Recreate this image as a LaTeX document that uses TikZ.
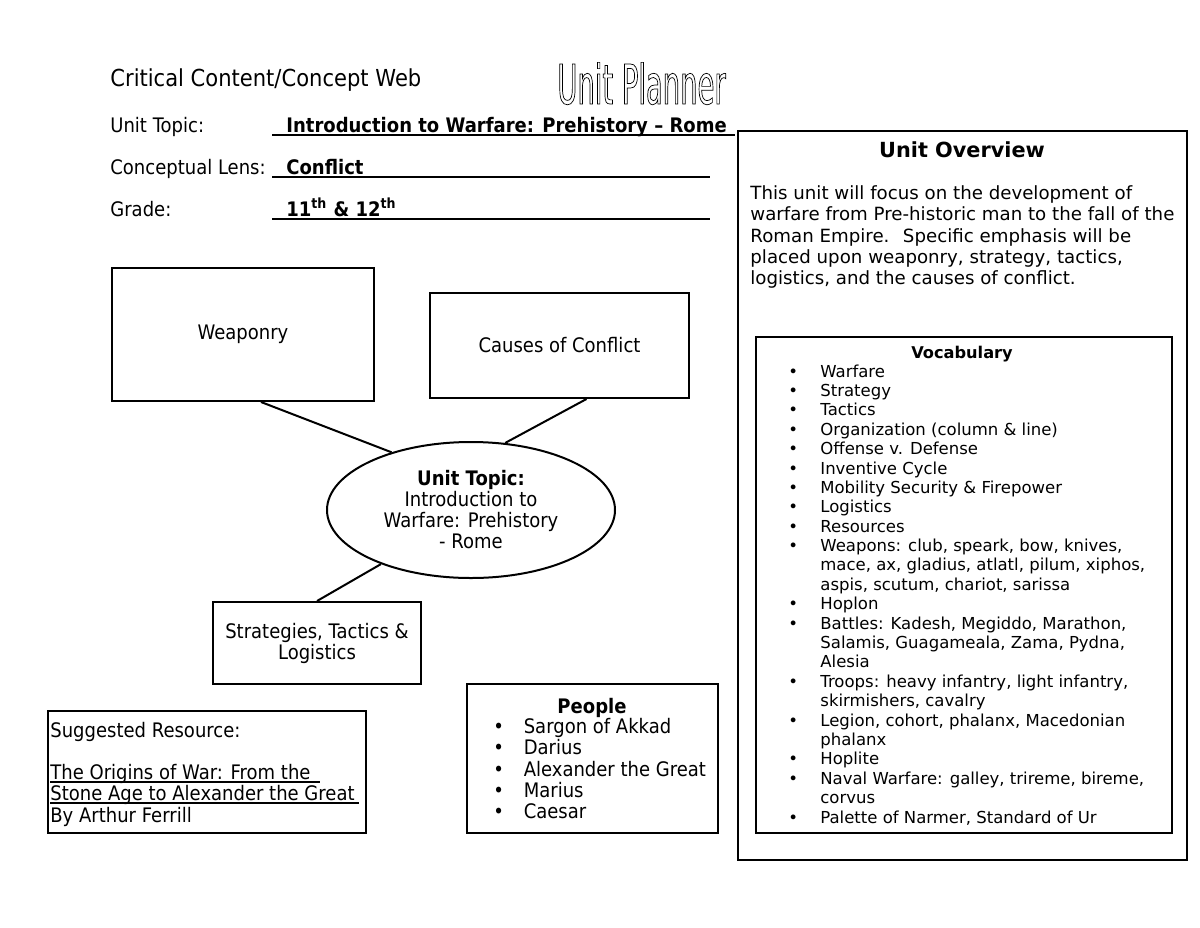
\documentclass[tikz,border=0pt]{standalone}
\usepackage{fontspec}
\setmainfont{DejaVu Sans}
\newfontfamily\condfont{DejaVu Sans}[FakeStretch=0.9]
\newfontfamily\plannerfont{DejaVu Sans}[FakeStretch=0.5]
\usetikzlibrary{shapes.geometric}

\newcommand{\vbul}{\makebox[16pt][l]{•}}
\newcommand{\pbul}{\makebox[15.2pt][l]{•}}

\tikzset{
  box/.style={draw, line width=1pt, inner sep=0pt},
  webbox/.style={box, align=center, font=\condfont\fontsize{10}{10.5}\selectfont},
  conn/.style={line width=1pt},
  uline/.style={line width=0.7pt},
  lbl/.style={inner sep=0pt, anchor=base west, font=\condfont\fontsize{10}{12}\selectfont},
  lblb/.style={lbl, font=\condfont\bfseries\fontsize{10}{12}\selectfont},
  para/.style={inner sep=0pt, anchor=base west, font=\fontsize{9.1}{11}\selectfont},
  voc/.style={inner sep=0pt, anchor=base west, font=\fontsize{8.25}{9.7}\selectfont},
}

\begin{document}
\begin{tikzpicture}[x=0.5pt,y=-0.5pt]
\useasboundingbox (0,0) rectangle (1200,927);

% header
\node[lbl, font=\condfont\fontsize{11.7}{14}\selectfont] (title) at (110,86) {Critical Content/Concept Web};
\node[anchor=base west, inner sep=0pt, font=\plannerfont\fontsize{27.4}{30}\selectfont] (planner) at (557,104) {\special{pdf:literal direct 1 Tr 0.35 w}Unit Planner\special{pdf:literal direct 0 Tr}};

\node[lbl] (topiclbl) at (110,132) {Unit Topic:};
\node[lblb] (topicval) at (286,132) {Introduction to Warfare: Prehistory – Rome};
\draw[uline] (272,135) -- (735,135);

\node[lbl] (lenslbl) at (110,174) {Conceptual Lens:};
\node[lblb] (lensval) at (286,174) {Conflict};
\draw[uline] (272,177) -- (710,177);

\node[lbl] (gradelbl) at (110,216) {Grade:};
\node[lblb] (gradeval) at (286,216) {11\textsuperscript{th} \& 12\textsuperscript{th}};
\draw[uline] (272,219) -- (710,219);

% concept web
\node[webbox, minimum width=131pt, minimum height=66.5pt] (weap) at (243,334.5) {Weaponry};
\node[webbox, minimum width=129.5pt, minimum height=52.5pt] (cause) at (559.5,345.5) {Causes of Conflict};
\node[webbox, ellipse, minimum width=144pt, minimum height=68pt] (topic) at (471,510) {\textbf{Unit Topic:}\\Introduction to\\Warfare: Prehistory\\- Rome};
\node[webbox, minimum width=104pt, minimum height=41pt] (strat) at (317,643) {Strategies, Tactics \&\\Logistics};

\draw[conn] ([xshift=9pt]weap.south) -- (topic.144);
\draw[conn] ([xshift=13.5pt]cause.south) -- (topic.63);
\draw[conn] (topic.211) -- (strat.north);

% suggested resource
\node[box, minimum width=159pt, minimum height=61pt] (res) at (207,772) {};
\node[lbl] (res1) at (50,737) {Suggested Resource:};
\node[lbl] (res2) at (50,779) {The Origins of War: From the};
\node[lbl] (res3) at (50,800) {Stone Age to Alexander the Great};
\node[lbl] (res4) at (50,822) {By Arthur Ferrill};
\draw[uline] (50,782) -- (320,782);
\draw[uline] (50,803) -- (359,803);

% people
\node[box, minimum width=125.5pt, minimum height=74.5pt] (people) at (592.5,758.5) {};
\node[lblb, anchor=base] (peoplehd) at (592,713) {People};
\node[lbl] (p1) at (493,733) {\pbul Sargon of Akkad};
\node[lbl] (p2) at (493,754) {\pbul Darius};
\node[lbl] (p3) at (493,776) {\pbul Alexander the Great};
\node[lbl] (p4) at (493,797) {\pbul Marius};
\node[lbl] (p5) at (493,818) {\pbul Caesar};

% unit overview
\node[box, line width=1.2pt, minimum width=224.5pt, minimum height=364.5pt] (overview) at (962.5,495.5) {};
\node[anchor=base, inner sep=0pt, font=\bfseries\fontsize{10.4}{12}\selectfont] (ovhd) at (962,157) {Unit Overview};
\node[para] (ov1) at (750,199.5) {This unit will focus on the development of};
\node[para] (ov2) at (750,220.8) {warfare from Pre-historic man to the fall of the};
\node[para] (ov3) at (750,242.1) {Roman Empire.~ Specific emphasis will be};
\node[para] (ov4) at (750,263.4) {placed upon weaponry, strategy, tactics,};
\node[para] (ov5) at (750,284.7) {logistics, and the causes of conflict.};

% vocabulary
\node[box, minimum width=208pt, minimum height=248pt] (vocab) at (964,585) {};
\node[anchor=base, inner sep=0pt, font=\bfseries\fontsize{8.1}{10}\selectfont] (vochd) at (962,358) {Vocabulary};
\node[voc] (v0) at (788,377.0) {\vbul Warfare};
\node[voc] (v1) at (788,396.4) {\vbul Strategy};
\node[voc] (v2) at (788,415.8) {\vbul Tactics};
\node[voc] (v3) at (788,435.2) {\vbul Organization (column \& line)};
\node[voc] (v4) at (788,454.6) {\vbul Offense v. Defense};
\node[voc] (v5) at (788,474.0) {\vbul Inventive Cycle};
\node[voc] (v6) at (788,493.3) {\vbul Mobility Security \& Firepower};
\node[voc] (v7) at (788,512.7) {\vbul Logistics};
\node[voc] (v8) at (788,532.1) {\vbul Resources};
\node[voc] (v9) at (788,551.5) {\vbul Weapons: club, speark, bow, knives,};
\node[voc] (v10) at (820,570.9) {mace, ax, gladius, atlatl, pilum, xiphos,};
\node[voc] (v11) at (820,590.3) {aspis, scutum, chariot, sarissa};
\node[voc] (v12) at (788,609.7) {\vbul Hoplon};
\node[voc] (v13) at (788,629.1) {\vbul Battles: Kadesh, Megiddo, Marathon,};
\node[voc] (v14) at (820,648.5) {Salamis, Guagameala, Zama, Pydna,};
\node[voc] (v15) at (820,667.9) {Alesia};
\node[voc] (v16) at (788,687.2) {\vbul Troops: heavy infantry, light infantry,};
\node[voc] (v17) at (820,706.6) {skirmishers, cavalry};
\node[voc] (v18) at (788,726.0) {\vbul Legion, cohort, phalanx, Macedonian};
\node[voc] (v19) at (820,745.4) {phalanx};
\node[voc] (v20) at (788,764.8) {\vbul Hoplite};
\node[voc] (v21) at (788,784.2) {\vbul Naval Warfare: galley, trireme, bireme,};
\node[voc] (v22) at (820,803.6) {corvus};
\node[voc] (v23) at (788,823.0) {\vbul Palette of Narmer, Standard of Ur};

\end{tikzpicture}
\end{document}
